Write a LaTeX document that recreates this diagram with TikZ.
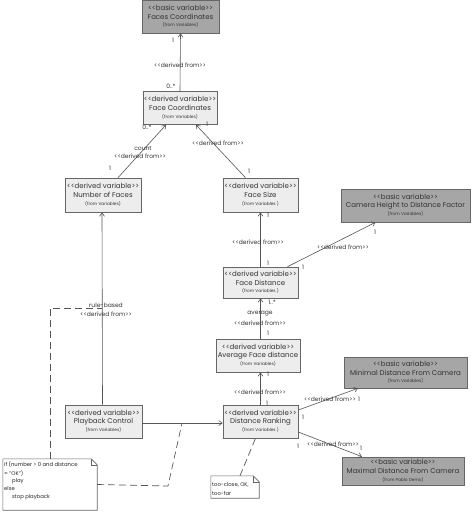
\documentclass[tikz,border=0pt]{standalone}
\usepackage{fontspec}
\setmainfont{Poppins}
\usetikzlibrary{arrows.meta,calc}
\definecolor{dfill}{HTML}{EDEDED}
\definecolor{bfill}{HTML}{A6A6A6}
\definecolor{edge}{HTML}{666666}
\definecolor{lin}{HTML}{555555}
\newcommand\stq[1]{<{}<#1>{}>}
\newcommand\umlbox[9]{%
  \node[#6, minimum width=#4, minimum height=#5] (#1) at (#2,#3) {};
  \node[btxt] (#1-s) at ([yshift=9]#1.center) {\stq{#7}};
  \node[btxt] (#1-t) at ([yshift=0]#1.center) {#8};
  \node[ftxt] (#1-f) at ([yshift=-8.5]#1.center) {(#9)};
}
\begin{document}
\begin{tikzpicture}[x=1pt,y=-1pt,
  boxbase/.style={draw=edge, line width=0.6pt, inner sep=0pt,
    append after command={\pgfextra{\draw[line width=0.9pt, black!75]
      (\tikzlastnode.south west) -- (\tikzlastnode.south east) -- (\tikzlastnode.north east);}}},
  derived/.style={boxbase, fill=dfill},
  basic/.style={boxbase, fill=bfill},
  btxt/.style={inner sep=0pt, font=\fontsize{7}{8}\selectfont, text=black!80},
  ftxt/.style={inner sep=0pt, font=\fontsize{4.3}{5}\selectfont, text=black!80},
  lbl/.style={inner sep=0pt, font=\fontsize{6}{7}\selectfont, text=black!80},
  ntxt/.style={inner sep=0pt, font=\fontsize{5.3}{6}\selectfont, text=black!85, anchor=west},
  conn/.style={draw=lin, line width=0.6pt},
  arr/.style={conn, -{Straight Barb[length=3.5pt,width=5pt]}},
  dsh/.style={draw=lin, line width=0.7pt, dash pattern=on 7pt off 4pt},
]
\fill[white] (0,0) rectangle (474,515);
\useasboundingbox (0,0) rectangle (474,515);

\umlbox{fcb}{180.5}{16.5}{77pt}{33pt}{basic}{basic variable}{Faces Coordinates}{from Variables}
\umlbox{fcd}{180}{108}{74pt}{33pt}{derived}{derived variable}{Face Coordinates}{from Variables}
\umlbox{nof}{103}{195}{76pt}{34pt}{derived}{derived variable}{Number of Faces}{from Variables}
\umlbox{fs}{260.5}{195}{75pt}{34pt}{derived}{derived variable}{Face Size}{from Variables }
\umlbox{chd}{405.5}{205.5}{129pt}{33pt}{basic}{basic variable}{Camera Height to Distance Factor}{from Variables}
\umlbox{fd}{260.5}{282.5}{75pt}{31pt}{derived}{derived variable}{Face Distance}{from Variables }
\umlbox{afd}{258}{355.5}{84pt}{33pt}{derived}{derived variable}{Average Face distance}{from Variables}
\umlbox{pc}{103.5}{421.5}{77pt}{33pt}{derived}{derived variable}{Playback Control}{from Variables}
\umlbox{dr}{260.5}{421.5}{75pt}{33pt}{derived}{derived variable}{Distance Ranking}{from Variables }
\umlbox{mind}{405.5}{372.5}{123pt}{31pt}{basic}{basic variable}{Minimal Distance From Camera}{from Variables}
\umlbox{maxd}{403}{471}{122pt}{28pt}{basic}{basic variable}{Maximal Distance From Camera}{from Pablo Demo}

% notes
\node[minimum width=94pt, minimum height=51pt, inner sep=0pt] (n1) at (50,484.5) {};
\draw[edge, line width=0.6pt, fill=white] (n1.north west) -- ([xshift=-6]n1.north east) -- ([yshift=-6]n1.north east) -- (n1.south east) -- (n1.south west) -- cycle;
\draw[edge, line width=0.5pt] ([xshift=-6]n1.north east) -- ([xshift=-6,yshift=-6]n1.north east) -- ([yshift=-6]n1.north east);
\node[ntxt] (n1a) at (4,465) {if (number > 0 and distance};
\node[ntxt] (n1b) at (4,473.5) {= "OK")};
\node[ntxt] (n1c) at (12,481) {play};
\node[ntxt] (n1d) at (4,489) {else};
\node[ntxt] (n1e) at (12,497) {stop playback};

\node[minimum width=48pt, minimum height=22pt, inner sep=0pt] (n2) at (235,487) {};
\draw[edge, line width=0.6pt, fill=white] (n2.north west) -- ([xshift=-6]n2.north east) -- ([yshift=-6]n2.north east) -- (n2.south east) -- (n2.south west) -- cycle;
\draw[edge, line width=0.5pt] ([xshift=-6]n2.north east) -- ([xshift=-6,yshift=-6]n2.north east) -- ([yshift=-6]n2.north east);
\node[ntxt] (n2a) at (212,485) {too-close, OK,};
\node[ntxt] (n2b) at (212,493) {too-far};

% connectors
\draw[arr] (fcd.north) -- (fcb.south);
\draw[arr] ([xshift=15]nof.north) -- ([xshift=-14]fcd.south);
\draw[arr] ([xshift=-15]fs.north) -- ([xshift=16]fcd.south);
\draw[arr] ([xshift=-1]pc.north) -- ([xshift=-1]nof.south);
\draw[arr] (fd.north) -- (fs.south);
\draw[arr] ([xshift=27]fd.north) -- ([xshift=-30]chd.south);
\draw[arr] ([xshift=2.5]afd.north) -- (fd.south);
\draw[arr] (dr.north) -- ([xshift=2.5]afd.south);
\draw[arr] ([yshift=-1.5]pc.east) -- ([yshift=-1.5]dr.west);
\draw[arr] ([yshift=11.5]dr.east) -- ([xshift=-47.5]mind.south);
\draw[arr] ([yshift=-10.5]dr.east) -- ([xshift=-41]maxd.north);

% dashed anchors
\coordinate (rb) at (102,308);
\coordinate (c1) at (168,486);
\coordinate (c2) at (182,423);
\draw[dsh] (n1.north) |- (rb);
\draw[dsh] (n1.east) -- (c1) -- (c2);
\draw[dsh] ([xshift=5]n2.north) -- ([xshift=-5]dr.south);

% labels
\node[lbl] (l1) at (173,40) {1};
\node[lbl] (l2) at (180,65) {\stq{derived from}};
\node[lbl] (l3) at (171,86) {0..*};
\node[lbl] (l4) at (147,127) {0..*};
\node[lbl] (l5) at (143,148) {count};
\node[lbl] (l6) at (140,156) {\stq{derived from}};
\node[lbl] (l7) at (110,168) {1};
\node[lbl] (l8) at (207,124) {1};
\node[lbl] (l9) at (218,143) {\stq{derived from}};
\node[lbl] (l10) at (249,171) {1};
\node[lbl] (l11) at (106,305) {rule-based};
\node[lbl] (l12) at (106,314) {\stq{derived from}};
\node[lbl] (l13) at (268,215) {1};
\node[lbl] (l14) at (258,242) {\stq{derived from}};
\node[lbl] (l15) at (268,263) {1};
\node[lbl] (l16) at (375,232) {1};
\node[lbl] (l17) at (343,247) {\stq{derived from}};
\node[lbl] (l18) at (303,267) {1};
\node[lbl] (l19) at (272,302) {1..*};
\node[lbl] (l20) at (260,314) {average};
\node[lbl] (l21) at (260,323) {\stq{derived from}};
\node[lbl] (l22) at (268,333) {1};
\node[lbl] (l23) at (268,374) {1};
\node[lbl] (l24) at (260,392) {\stq{derived from}};
\node[lbl] (l25) at (267,403) {1};
\node[lbl] (l26) at (330,399) {\stq{derived from}};
\node[lbl] (l27) at (359,399) {1};
\node[lbl] (l28) at (303,417) {1};
\node[lbl] (l29) at (298,446) {1};
\node[lbl] (l30) at (333,444) {\stq{derived from}};
\node[lbl] (l31) at (361,448) {1};
\end{tikzpicture}
\end{document}
